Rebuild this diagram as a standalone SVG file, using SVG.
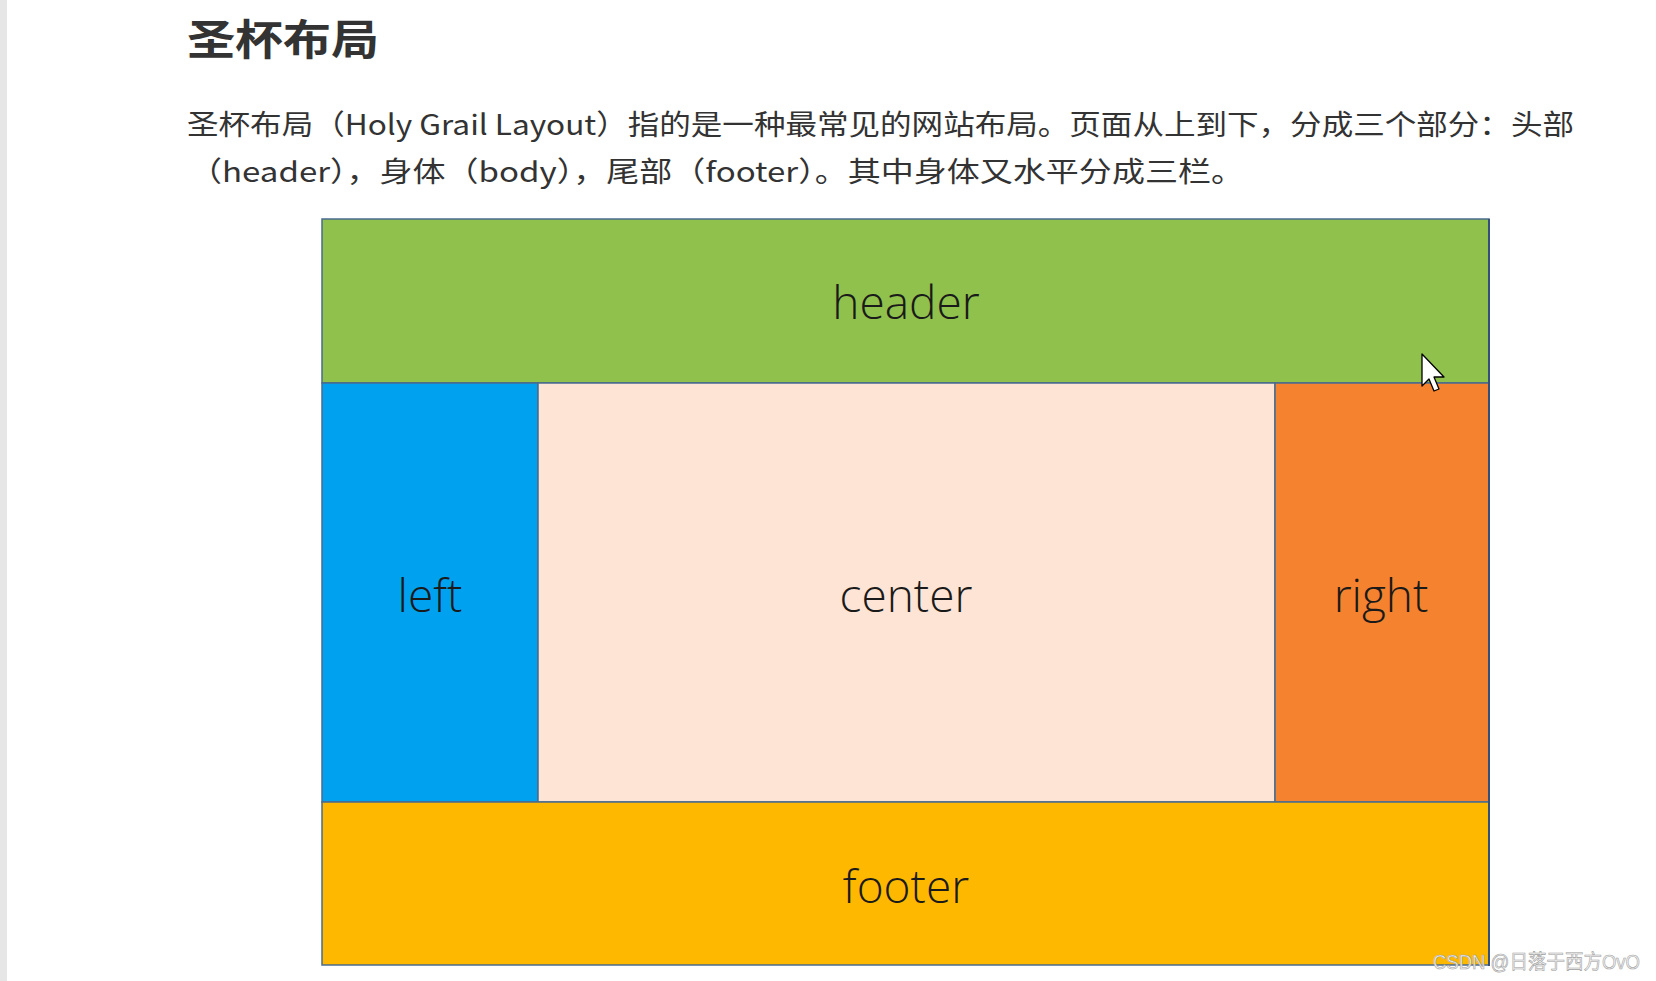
<svg xmlns="http://www.w3.org/2000/svg" width="1656" height="981" viewBox="0 0 1656 981">
<style>
.box{stroke:#4a6b8e;stroke-width:1.5}
.lbl{font-family:"Open Sans","Noto Sans","Liberation Sans",sans-serif;font-weight:300;font-size:46px;fill:#1a1a1a;text-anchor:middle}
.para{font-family:"Noto Sans CJK SC","Noto Sans",sans-serif;font-size:28px;fill:#333}
.title{font-family:"Noto Sans CJK SC",sans-serif;font-size:42px;font-weight:bold;fill:#333}
</style>
<rect x="0" y="0" width="1656" height="981" fill="#ffffff"/>
<rect x="0" y="0" width="7" height="981" fill="#e6e6e6"/>
<g id="title">
<text class="title" x="187" y="55" textLength="192" lengthAdjust="spacingAndGlyphs">圣杯布局</text>
</g>
<g id="description">
<text class="para" x="187" y="135" textLength="1387" lengthAdjust="spacingAndGlyphs">圣杯布局（Holy Grail Layout）指的是一种最常见的网站布局。页面从上到下，分成三个部分：头部</text>
<text class="para" x="189" y="182" textLength="1055" lengthAdjust="spacingAndGlyphs">（header），身体（body），尾部（footer）。其中身体又水平分成三栏。</text>
</g>
<g id="connectors"/>
<g id="header">
<rect class="box" x="322" y="219" width="1167" height="164" fill="#8fc14c"/>
<text class="lbl" x="906" y="319">header</text>
</g>
<g id="left">
<rect class="box" x="322" y="383" width="216" height="419" fill="#00a1ef"/>
<text class="lbl" x="430" y="612">left</text>
</g>
<g id="center">
<rect class="box" x="538" y="383" width="737" height="419" fill="#fde4d4"/>
<text class="lbl" x="906" y="612">center</text>
</g>
<g id="right">
<rect class="box" x="1275" y="383" width="214" height="419" fill="#f5822f"/>
<text class="lbl" x="1381" y="612">right</text>
</g>
<g id="footer">
<rect class="box" x="322" y="802" width="1167" height="163" fill="#ffb800"/>
<text class="lbl" x="906" y="903">footer</text>
</g>
<line x1="1489" y1="219" x2="1489" y2="966" stroke="#34507a" stroke-width="2"/>
<g id="cursor">
<path d="M1422,354 L1422,386 L1429,379 L1434,391 L1439,389 L1434,377 L1444,377 Z" fill="#ffffff" stroke="#000" stroke-width="1.3" stroke-linejoin="round"/>
</g>
<g id="watermark">
<text x="1433" y="969" font-family="'Liberation Sans','Noto Sans CJK SC',sans-serif" font-size="20" fill="#f2f2f2" stroke="#a0a0a0" stroke-width="0.6" textLength="207" lengthAdjust="spacingAndGlyphs">CSDN @日落于西方OvO</text>
</g>
</svg>
